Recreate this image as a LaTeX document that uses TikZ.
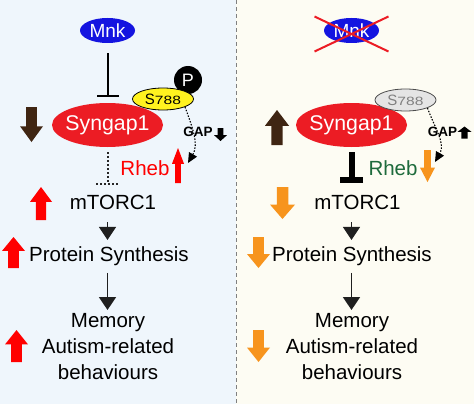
\documentclass[tikz,border=0pt]{standalone}
\usepackage{fontspec}
\setmainfont{Liberation Sans}
\usepackage{graphicx}
\usetikzlibrary{positioning, calc, arrows.meta, shapes.geometric, shapes.misc}

\definecolor{bgblue}{HTML}{EFF6FC}
\definecolor{bgcream}{HTML}{FDFCF3}
\definecolor{mnkblue}{HTML}{1414E0}
\definecolor{synred}{HTML}{EC1C24}
\definecolor{arrred}{HTML}{FF0000}
\definecolor{arrbrown}{HTML}{3F2512}
\definecolor{arrorange}{HTML}{F7941D}
\definecolor{rhebgreen}{HTML}{1E6B3C}
\definecolor{phosyellow}{HTML}{FFF21F}

\newcommand{\fsz}[1]{\fontsize{#1}{#1}\selectfont}

\tikzset{
  blk/.pic={\fill[pic actions] (0,0.5) -- (0.5,0.05) -- (0.23,0.05) -- (0.23,-0.5)
            -- (-0.23,-0.5) -- (-0.23,0.05) -- (-0.5,0.05) -- cycle;},
  mnk/.style={ellipse, fill=mnkblue, text=white, font=\fsz{19}, minimum width=55pt,
              minimum height=25pt, inner sep=0pt},
  syn/.style={ellipse, fill=synred, text=white, font=\fsz{21.3}, minimum width=111pt,
              minimum height=44pt, inner xsep=-6pt, inner ysep=0pt},
  site/.style={ellipse, draw, line width=0.8pt, minimum width=61pt, minimum height=22pt, inner sep=0pt},
  txt/.style={font=\fsz{20.5}, inner sep=0pt, anchor=base},
  memtxt/.style={font=\fontsize{20.5}{26}\selectfont, inner sep=0pt, anchor=north, align=center},
  gaptxt/.style={font=\bfseries\fsz{13.5}, inner sep=0pt, anchor=base},
  flow/.style={-{Triangle[length=13pt, width=17pt]}, line width=1.6pt, black!88},
  dotline/.style={line width=2pt, dash pattern=on 2pt off 2pt, black!85},
  gapcurve/.style={-{Triangle[length=10pt, width=9pt]}, line width=1.1pt, dash pattern=on 1.5pt off 1.5pt},
}

\begin{document}
\begin{tikzpicture}[x=1pt, y=1pt]
    \useasboundingbox (0,0) rectangle (474,-404);

    % Panel backgrounds and the dashed divider
    \fill[bgblue] (0,0) rectangle (236,-404);
    \fill[bgcream] (236,0) rectangle (474,-404);
    \draw[gray, line width=1pt, dash pattern=on 4pt off 3pt] (236,0) -- (236,-404);

    % Left panel: Mnk present, S788 phosphorylated
    \node[mnk] (mnkL) at (107.5,-30.5) {Mnk};
    \node[syn] (synL) at (107.5,-125) {Syngap1};
    \node[circle, fill=black, text=white, font=\fsz{18}, minimum size=28pt, inner sep=0pt] (phosL) at (188,-80) {P};
    \node[site, fill=phosyellow] (siteL) at (163,-99) {\fsz{15}S{\fsz{12}\scalebox{1.3}[1]{788}}};
    \node[txt, text=arrred] (rhebL) at (145,-175) {Rheb};
    \node[gaptxt] (gapL) at (198,-136) {GAP};
    \node[txt] (mtorL) at (113,-209) {mTORC1};
    \node[txt] (protL) at (109,-261) {Protein Synthesis};
    \node[memtxt] (memL) at (108,-313) {Memory\\Autism-related\\behaviours};

    % Left connectors
    \draw[-{Bar[width=22pt]}, line width=2pt, shorten <=10pt, shorten >=6pt] (mnkL) -- (synL);
    \coordinate (dotbarL) at (107.5,-184);
    \draw[dotline, shorten <=5pt] (synL) -- (dotbarL);
    \draw[dotline] ([xshift=-11.5pt]dotbarL) -- ([xshift=11.5pt]dotbarL);
    \coordinate (gapEndL) at (188,-163);
    \draw[gapcurve] (siteL.-20) to[out=-70, in=60] (gapEndL);
    \draw[flow, shorten <=13pt, shorten >=6pt] (synL |- mtorL.south) -- (synL |- protL.north);
    \draw[flow, shorten <=7.5pt, shorten >=3pt] (synL |- protL.south) -- (synL |- memL.north);

    % Left block arrows
    \pic[fill=arrbrown, xscale=23, yscale=-35] at (31.5,-124.5) {blk};
    \pic[fill=arrred, xscale=12, yscale=35] at (178,-165.5) {blk};
    \pic[fill=black, xscale=13, yscale=-13] at (220.5,-134.5) {blk};
    \pic[fill=arrred, xscale=22, yscale=33] at (41,-203.5) {blk};
    \pic[fill=arrred, xscale=23, yscale=31] at (13.5,-252.5) {blk};
    \pic[fill=arrred, xscale=23, yscale=32] at (16.5,-346) {blk};

    % Right panel: Mnk knocked out, S788 not phosphorylated
    \node[mnk] (mnkR) at (351.5,-30.5) {Mnk};
    \node[cross out, draw=synred, line width=2pt, minimum width=72pt, minimum height=33pt] (noMnk) at ([yshift=-3.5pt]mnkR) {};
    \node[syn] (synR) at (351.5,-125) {Syngap1};
    \node[site, fill=black!10, draw=black!70, text=black!50] (siteR) at (405.5,-100) {\fsz{15}S{\fsz{12}\scalebox{1.3}[1]{788}}};
    \node[txt, text=rhebgreen] (rhebR) at (393,-175) {Rheb};
    \node[gaptxt] (gapR) at (442.5,-136.5) {GAP};
    \node[txt] (mtorR) at (357.5,-209) {mTORC1};
    \node[txt] (protR) at (352,-261) {Protein Synthesis};
    \node[memtxt] (memR) at (352,-313) {Memory\\Autism-related\\behaviours};

    % Right connectors
    \draw[-{Bar[width=23pt]}, line width=6pt, shorten <=5pt, shorten >=11pt] (synR) -- (synR |- mtorR.north);
    \coordinate (gapEndR) at (435,-162);
    \draw[gapcurve] (siteR.-20) to[out=-70, in=60] (gapEndR);
    \draw[flow, shorten <=13pt, shorten >=6pt] (synR |- mtorR.south) -- (synR |- protR.north);
    \draw[flow, shorten <=7.5pt, shorten >=3pt] (synR |- protR.south) -- (synR |- memR.north);

    % Right block arrows
    \pic[fill=arrbrown, xscale=24, yscale=35] at (277,-127.5) {blk};
    \pic[fill=arrorange, xscale=15, yscale=-32] at (427.5,-166) {blk};
    \pic[fill=black, xscale=14, yscale=12] at (464.5,-132.5) {blk};
    \pic[fill=arrorange, xscale=25, yscale=-32] at (282.5,-203) {blk};
    \pic[fill=arrorange, xscale=23, yscale=-31] at (258.5,-252.5) {blk};
    \pic[fill=arrorange, xscale=23, yscale=-32] at (258.5,-346) {blk};

\end{tikzpicture}
\end{document}
